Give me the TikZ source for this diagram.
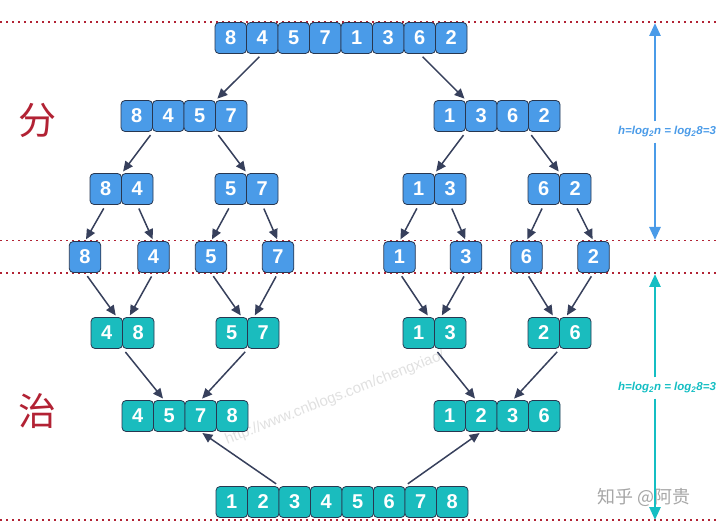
\documentclass[tikz,border=0pt]{standalone}
\usepackage{fontspec}
\setsansfont{Liberation Sans}
\newfontfamily\cjk{Noto Sans CJK SC}
\usetikzlibrary{positioning,arrows.meta}
\definecolor{cellblue}{RGB}{74,155,232}
\definecolor{cellteal}{RGB}{26,188,190}
\definecolor{celledge}{RGB}{40,55,80}
\definecolor{arrowgray}{RGB}{55,64,92}
\definecolor{cutred}{RGB}{178,34,52}
\definecolor{hteal}{RGB}{20,190,195}

\tikzset{
  cell/.style={draw=celledge, line width=0.8pt, rounded corners=4pt, minimum width=31.5pt,
    minimum height=31pt, inner sep=0pt, text=white, font=\sffamily\bfseries\fontsize{20}{20}\selectfont},
  bcell/.style={cell, fill=cellblue},
  tcell/.style={cell, fill=cellteal},
  arr/.style={arrowgray, line width=1.5pt, -{Triangle[length=10pt,width=9pt]}, shorten >=2pt, shorten <=4pt},
  cut/.style={cutred, line width=1.3pt, dash pattern=on 1.6pt off 4.4pt},
  hlabel/.style={font=\sffamily\bfseries\itshape\fontsize{11.5}{12}\selectfont, inner sep=1pt},
  harr/.style={line width=2.6pt, -{Triangle[length=13pt,width=11pt]}},
}

\begin{document}
\begin{tikzpicture}[x=1pt,y=-1pt]
\useasboundingbox (0,0) rectangle (720,529);

% watermarks
\node[text=black!12, rotate=21.5, font=\sffamily\fontsize{15}{15}\selectfont] (wm) at (335,398) {http://www.cnblogs.com/chengxiao/};
\node[text=black!35, font=\cjk\fontsize{18}{18}\selectfont] (zh) at (644,497) {知乎 @阿贵};

% dotted cut lines
\draw[cut] (0,22) -- (720,22);
\draw[cut] (0,240.5) -- (720,240.5);
\draw[cut] (0,273) -- (720,273);
\draw[cut] (0,520) -- (720,520);

\node[text=cutred, font=\cjk\fontsize{38}{38}\selectfont] (fen) at (38,120) {分};
\node[text=cutred, font=\cjk\fontsize{38}{38}\selectfont] (zhi) at (37,411) {治};

% split
\foreach \d [count=\i] in {8,4,5,7,1,3,6,2}
  \node[bcell] (a\i) at ({215+31.5*(\i-0.5)},38) {\d};
\foreach \d [count=\i] in {8,4,5,7}
  \node[bcell] (bl\i) at ({121+31.5*(\i-0.5)},116) {\d};
\foreach \d [count=\i] in {1,3,6,2}
  \node[bcell] (br\i) at ({434+31.5*(\i-0.5)},116) {\d};
\foreach \d [count=\i] in {8,4}
  \node[bcell] (cl\i) at ({90+31.5*(\i-0.5)},189) {\d};
\foreach \d [count=\i] in {5,7}
  \node[bcell] (cm\i) at ({215+31.5*(\i-0.5)},189) {\d};
\foreach \d [count=\i] in {1,3}
  \node[bcell] (cn\i) at ({403+31.5*(\i-0.5)},189) {\d};
\foreach \d [count=\i] in {6,2}
  \node[bcell] (cr\i) at ({528+31.5*(\i-0.5)},189) {\d};
\foreach \d/\x [count=\i] in {8/85,4/153.5,5/211,7/278,1/399.5,3/466,6/526.5,2/593.5}
  \node[bcell] (d\i) at (\x,257) {\d};

% merge
\foreach \d [count=\i] in {4,8}
  \node[tcell] (el\i) at ({91+31.5*(\i-0.5)},333) {\d};
\foreach \d [count=\i] in {5,7}
  \node[tcell] (em\i) at ({216+31.5*(\i-0.5)},333) {\d};
\foreach \d [count=\i] in {1,3}
  \node[tcell] (en\i) at ({403+31.5*(\i-0.5)},333) {\d};
\foreach \d [count=\i] in {2,6}
  \node[tcell] (er\i) at ({528+31.5*(\i-0.5)},333) {\d};
\foreach \d [count=\i] in {4,5,7,8}
  \node[tcell] (fl\i) at ({122+31.5*(\i-0.5)},416) {\d};
\foreach \d [count=\i] in {1,2,3,6}
  \node[tcell] (fr\i) at ({434+31.5*(\i-0.5)},416) {\d};
\foreach \d [count=\i] in {1,2,3,4,5,6,7,8}
  \node[tcell] (g\i) at ({216+31.5*(\i-0.5)},502) {\d};

\draw[arr] (a2.south) -- (bl3.north east);
\draw[arr] (a7.south) -- (br1.north east);
\draw[arr] (bl1.south east) -- (cl1.north east);
\draw[arr] (bl3.south east) -- (cm1.north east);
\draw[arr] (br1.south east) -- (cn1.north east);
\draw[arr] (br3.south east) -- (cr1.north east);
\draw[arr] (cl1.south) -- (d1.north);
\draw[arr] (cl2.south) -- (d2.north);
\draw[arr] (cm1.south) -- (d3.north);
\draw[arr] (cm2.south) -- (d4.north);
\draw[arr] (cn1.south) -- (d5.north);
\draw[arr] (cn2.south) -- (d6.north);
\draw[arr] (cr1.south) -- (d7.north);
\draw[arr] (cr2.south) -- (d8.north);

\draw[arr] (d1.south) -- ([xshift=-6pt]el1.north east);
\draw[arr] (d2.south) -- ([xshift=6pt]el1.north east);
\draw[arr] (d3.south) -- ([xshift=-6pt]em1.north east);
\draw[arr] (d4.south) -- ([xshift=6pt]em1.north east);
\draw[arr] (d5.south) -- ([xshift=-6pt]en1.north east);
\draw[arr] (d6.south) -- ([xshift=6pt]en1.north east);
\draw[arr] (d7.south) -- ([xshift=-6pt]er1.north east);
\draw[arr] (d8.south) -- ([xshift=6pt]er1.north east);
\draw[arr] (el1.south east) -- ([xshift=-5pt]fl2.north);
\draw[arr] (em1.south east) -- (fl3.north);
\draw[arr] (en1.south east) -- ([xshift=-5pt]fr2.north);
\draw[arr] (er1.south east) -- (fr3.north);
\draw[arr] (g2.north east) -- (fl3.south);
\draw[arr] (g7.north west) -- (fr2.south);

% height
\coordinate (splittop) at (655,23);
\coordinate (splitbot) at (655,240);
\coordinate (mergetop) at (655,274);
\coordinate (mergebot) at (655,520);
\node[hlabel, text=cellblue] (hsplit) at (667,132) {h=log\textsubscript{2}n = log\textsubscript{2}8=3};
\node[hlabel, text=hteal] (hmerge) at (667,388) {h=log\textsubscript{2}n = log\textsubscript{2}8=3};
\draw[harr, cellblue, shorten <=4pt] (hsplit.north -| splittop) -- (splittop);
\draw[harr, cellblue, shorten <=4pt] (hsplit.south -| splittop) -- (splitbot);
\draw[harr, hteal, shorten <=4pt] (hmerge.north -| mergetop) -- (mergetop);
\draw[harr, hteal, shorten <=4pt] (hmerge.south -| mergetop) -- (mergebot);
\end{tikzpicture}
\end{document}
